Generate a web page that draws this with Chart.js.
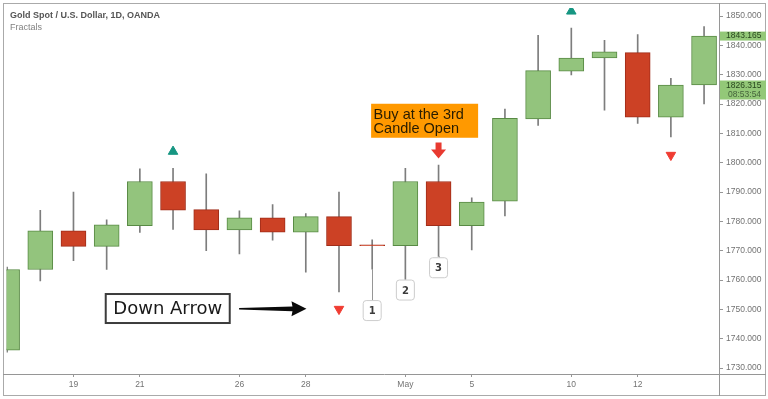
<!DOCTYPE html>
<html>
<head>
<meta charset="utf-8">
<script src="https://cdn.jsdelivr.net/npm/chart.js@4.4.1/dist/chart.umd.min.js"></script>
<style>
  html, body { margin: 0; padding: 0; background: #fff; }
  canvas { display: block; }
</style>
</head>
<body>
<canvas id="goldChart" width="768" height="399"></canvas>
<script>
// daily candles, Apr 15 -> May 14
const days = ['15', '16', '19', '20', '21', '22', '23', '26', '27', '28', '29', '30', 'May', '4', '5', '6', '7', '10', '11', '12', '13', '14'];
const openPrices  = [1736.1, 1763.6, 1776.8, 1771.5, 1778.5, 1793.6, 1784.0, 1777.1, 1781.2, 1776.3, 1781.6, 1772.0, 1771.7, 1793.6, 1778.5, 1786.9, 1814.9, 1831.2, 1835.7, 1837.5, 1815.5, 1826.5];
const highPrices  = [1764.4, 1783.8, 1790.0, 1780.5, 1797.9, 1798.1, 1796.2, 1783.6, 1785.7, 1782.7, 1790.0, 1773.7, 1798.1, 1799.2, 1788.0, 1818.3, 1843.4, 1845.9, 1841.7, 1843.7, 1828.8, 1846.4];
const lowPrices   = [1735.4, 1759.7, 1766.6, 1763.6, 1776.2, 1777.3, 1770.0, 1768.9, 1773.6, 1762.7, 1756.0, 1763.7, 1760.2, 1768.1, 1770.3, 1781.9, 1812.7, 1829.9, 1817.9, 1813.4, 1808.8, 1820.0];
const closePrices = [1763.6, 1776.8, 1771.5, 1778.8, 1793.6, 1783.8, 1777.1, 1781.2, 1776.3, 1781.6, 1771.7, 1771.7, 1793.6, 1778.5, 1786.6, 1815.1, 1831.4, 1835.7, 1837.8, 1815.5, 1826.5, 1843.2];

const xTickDays = ['19', '21', '26', '28', 'May', '5', '10', '12'];
const yTicks = [1730, 1740, 1750, 1760, 1770, 1780, 1790, 1800, 1810, 1820, 1830, 1840, 1850];

// fractal markers
const fractalUpIdx = [5, 17];
const fractalUpValues = [1803.8, 1851.6];
const fractalDownIdx = [10, 20];
const fractalDownValues = [1750.1, 1802.6];

// numbered candles after the down fractal
const markTexts = ['1', '2', '3'];
const markIdx = [11, 12, 13];
const markValues = [1749.6, 1756.6, 1764.2];

const lastPrice = '1843.165';
const lastPriceValue = 1843.165;
const openTagPrice = '1826.315';
const openTagValue = 1826.315;
const countdown = '08:53:54';

const idx = days.map((d, i) => i);
const isUp = idx.map(i => closePrices[i] >= openPrices[i]);
const bodyFill = idx.map(i => isUp[i] ? 'rgb(147,196,125)' : 'rgb(204,65,37)');
const bodyBorder = idx.map(i => isUp[i] ? 'rgb(88,138,68)' : 'rgb(160,45,25)');

const axisGray = 'rgb(150,150,150)';
const labelGray = 'rgb(115,115,115)';

function roundBox(c, x, y, w, h, r) {
  c.beginPath();
  c.moveTo(x + r, y);
  c.lineTo(x + w - r, y);
  c.quadraticCurveTo(x + w, y, x + w, y + r);
  c.lineTo(x + w, y + h - r);
  c.quadraticCurveTo(x + w, y + h, x + w - r, y + h);
  c.lineTo(x + r, y + h);
  c.quadraticCurveTo(x, y + h, x, y + h - r);
  c.lineTo(x, y + r);
  c.quadraticCurveTo(x, y, x + r, y);
  c.closePath();
}

const overlayPlugin = {
  id: 'overlay',
  afterDraw(chart) {
    const c = chart.ctx;
    const xs = chart.scales.x;
    const ys = chart.scales.y;
    const area = chart.chartArea;
    c.save();

    // frame and pane separators
    c.strokeStyle = 'rgb(170,170,170)';
    c.lineWidth = 1;
    c.strokeRect(3.5, 3.5, 762, 392);
    c.strokeStyle = axisGray;
    c.beginPath();
    c.moveTo(3, Math.round(area.bottom) + 0.5);
    c.lineTo(766, Math.round(area.bottom) + 0.5);
    c.moveTo(Math.round(area.right) + 0.5, 3);
    c.lineTo(Math.round(area.right) + 0.5, 396);
    c.stroke();

    // title
    c.textBaseline = 'middle';
    c.textAlign = 'left';
    c.fillStyle = 'rgb(85,85,85)';
    c.font = 'bold 9px "Liberation Sans"';
    c.fillText('Gold Spot / U.S. Dollar, 1D, OANDA', 10, 16);
    c.fillStyle = 'rgb(130,130,130)';
    c.font = '9px "Liberation Sans"';
    c.fillText('Fractals', 10, 28);

    // "Down Arrow" callout
    const bx = xs.getPixelForValue(4.84);
    const by = ys.getPixelForValue(1750.3);
    c.fillStyle = '#fff';
    c.fillRect(bx - 62, by - 14.5, 124, 29);
    c.strokeStyle = 'rgb(60,60,60)';
    c.lineWidth = 2;
    c.strokeRect(bx - 62, by - 14.5, 124, 29);
    c.fillStyle = 'rgb(25,25,25)';
    c.textAlign = 'center';
    c.font = '18px "DejaVu Sans"';
    c.fillText('Down Arrow', bx, by + 1);

    // black arrow pointing to the down fractal
    const ax0 = xs.getPixelForValue(6.99);
    const axT = xs.getPixelForValue(9.02);
    const ay = ys.getPixelForValue(1750.2);
    c.fillStyle = 'rgb(10,10,10)';
    c.beginPath();
    c.moveTo(ax0, ay - 0.8);
    c.lineTo(axT - 14, ay - 2.4);
    c.lineTo(axT - 15, ay - 7.5);
    c.lineTo(axT, ay);
    c.lineTo(axT - 15, ay + 7.5);
    c.lineTo(axT - 14, ay + 2.4);
    c.lineTo(ax0, ay + 0.8);
    c.closePath();
    c.fill();

    // orange note
    const ox = xs.getPixelForValue(12.58);
    const oy = ys.getPixelForValue(1814.3);
    c.fillStyle = 'rgb(255,153,0)';
    c.fillRect(ox - 53.5, oy - 17, 107, 34);
    c.fillStyle = 'rgb(40,28,0)';
    c.textAlign = 'left';
    c.textBaseline = 'alphabetic';
    c.font = '14.5px "Liberation Sans"';
    c.fillText('Buy at the 3rd', ox - 51, oy - 2);
    c.fillText('Candle Open', ox - 51, oy + 12);

    // red arrow above the 3rd candle
    const rx = xs.getPixelForValue(13);
    const rTop = ys.getPixelForValue(1806.9);
    c.fillStyle = 'rgb(232,58,48)';
    c.beginPath();
    c.moveTo(rx - 3, rTop);
    c.lineTo(rx + 3, rTop);
    c.lineTo(rx + 3, rTop + 7);
    c.lineTo(rx + 7.5, rTop + 7);
    c.lineTo(rx, rTop + 16);
    c.lineTo(rx - 7.5, rTop + 7);
    c.lineTo(rx - 3, rTop + 7);
    c.closePath();
    c.fill();

    // numbered labels under candles
    c.textAlign = 'center';
    c.textBaseline = 'middle';
    c.font = 'bold 10px "DejaVu Sans"';
    markTexts.forEach((t, k) => {
      const mx = xs.getPixelForValue(markIdx[k]);
      const my = ys.getPixelForValue(markValues[k]);
      const lowY = ys.getPixelForValue(lowPrices[markIdx[k]]);
      c.strokeStyle = 'rgb(150,150,150)';
      c.lineWidth = 1;
      c.beginPath();
      c.moveTo(Math.round(mx) + 0.5, lowY);
      c.lineTo(Math.round(mx) + 0.5, my - 10);
      c.stroke();
      roundBox(c, mx - 9, my - 10, 18, 20, 3);
      c.fillStyle = '#fff';
      c.fill();
      c.strokeStyle = 'rgb(205,205,205)';
      c.stroke();
      c.fillStyle = 'rgb(60,60,60)';
      c.fillText(t, mx, my + 1);
    });

    // price tags on the axis
    const tagX = Math.round(area.right) + 1;
    const py1 = ys.getPixelForValue(lastPriceValue);
    c.fillStyle = 'rgb(147,200,120)';
    c.fillRect(tagX, py1 - 4.5, 46, 9);
    c.fillStyle = 'rgb(40,70,30)';
    c.textAlign = 'left';
    c.font = '8.5px "Liberation Sans"';
    c.fillText(lastPrice, tagX + 6, py1);
    const py2 = ys.getPixelForValue(openTagValue);
    c.fillStyle = 'rgb(147,200,120)';
    c.fillRect(tagX, py2 - 5, 46, 19);
    c.fillStyle = 'rgb(40,70,30)';
    c.fillText(openTagPrice, tagX + 6, py2);
    c.fillStyle = 'rgb(70,100,60)';
    c.fillText(countdown, tagX + 8, py2 + 9);

    c.restore();
  }
};

const ctx = document.getElementById('goldChart').getContext('2d');
new Chart(ctx, {
  data: {
    datasets: [
      {
        type: 'bar',
        label: 'wicks',
        data: idx.map(i => ({ x: i, y: [lowPrices[i], highPrices[i]] })),
        backgroundColor: 'rgb(125,125,125)',
        barThickness: 1,
        grouped: false,
        order: 3,
      },
      {
        type: 'bar',
        label: 'bodies',
        data: idx.map(i => ({ x: i, y: [openPrices[i], closePrices[i]] })),
        backgroundColor: bodyFill,
        borderColor: bodyBorder,
        borderWidth: 1,
        borderSkipped: false,
        barThickness: 25,
        grouped: false,
        order: 2,
      },
      {
        type: 'line',
        label: 'fractal up',
        data: fractalUpIdx.map((x, k) => ({ x: x, y: fractalUpValues[k] })),
        showLine: false,
        pointStyle: 'triangle',
        pointRadius: 5.5,
        backgroundColor: 'rgb(22,150,130)',
        borderColor: 'rgb(22,150,130)',
        borderWidth: 1,
        order: 1,
      },
      {
        type: 'line',
        label: 'fractal down',
        data: fractalDownIdx.map((x, k) => ({ x: x, y: fractalDownValues[k] })),
        showLine: false,
        pointStyle: 'triangle',
        rotation: 180,
        pointRadius: 5.5,
        backgroundColor: 'rgb(240,60,50)',
        borderColor: 'rgb(240,60,50)',
        borderWidth: 1,
        order: 1,
      },
    ],
  },
  options: {
    responsive: false,
    animation: false,
    devicePixelRatio: 1,
    layout: { padding: { left: 3, top: 4, right: 3, bottom: 3 } },
    plugins: {
      legend: { display: false },
      tooltip: { enabled: false },
    },
    scales: {
      x: {
        type: 'linear',
        min: -0.018,
        max: 21.45,
        offset: false,
        border: { display: false },
        grid: { offset: false, drawOnChartArea: false, tickLength: 3, color: axisGray },
        afterBuildTicks: scale => {
          scale.ticks = xTickDays.map(d => ({ value: days.indexOf(d) }));
        },
        afterFit: scale => {
          scale.height = 22;
        },
        ticks: {
          callback: value => days[value],
          color: labelGray,
          font: { family: 'Liberation Sans', size: 8.5 },
          padding: 3,
          maxRotation: 0,
          autoSkip: false,
        },
      },
      y: {
        type: 'linear',
        position: 'right',
        min: 1727.98,
        max: 1852.7,
        border: { display: false },
        grid: { drawOnChartArea: false, tickLength: 4, color: axisGray },
        afterBuildTicks: scale => {
          scale.ticks = yTicks.map(v => ({ value: v }));
        },
        afterFit: scale => {
          scale.width = 46;
        },
        ticks: {
          callback: value => value.toFixed(3),
          color: labelGray,
          font: { family: 'Liberation Sans', size: 8.5 },
          padding: 3,
        },
      },
    },
  },
  plugins: [overlayPlugin],
});
</script>
</body>
</html>
